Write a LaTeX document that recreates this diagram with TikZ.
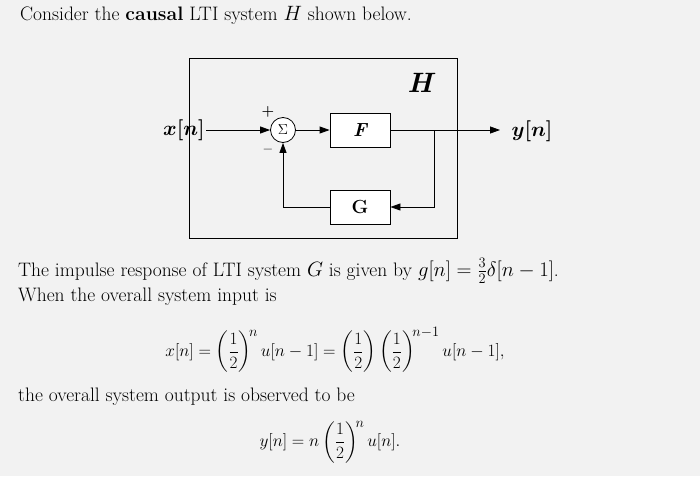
\documentclass[tikz,border=0pt]{standalone}
\usepackage{amsmath}
\usetikzlibrary{arrows.meta}
\begin{document}
\begin{tikzpicture}[x=1pt,y=-1pt,
  blk/.style={draw,thick,minimum width=60pt,minimum height=34pt,fill=white,font=\fontsize{19}{22}\selectfont\bfseries},
  arr/.style={thick,-{Triangle[length=10pt,width=7pt]}},
  txt/.style={anchor=west,font=\fontsize{19.5}{22}\selectfont,inner sep=0pt},
  eq/.style={font=\fontsize{19}{22}\selectfont,inner sep=0pt}]
\fill[gray!10] (0,0) rectangle (700,476);
\useasboundingbox (0,0) rectangle (700,476);
\node[txt] (t1) at (20,15) {Consider the \textbf{causal} LTI system $H$ shown below.};
\draw[thick] (189,58) rectangle (457,238);
\node (H) at (420,83) {\fontsize{28}{30}\selectfont\bfseries\itshape H};
\node[anchor=east,inner sep=1pt] (x) at (206,130) {\fontsize{21}{24}\selectfont\bfseries $\boldsymbol{x}$[$\boldsymbol{n}$]};
\node[draw,thick,circle,minimum size=25pt,inner sep=0pt,fill=white] (s) at (283,130) {\fontsize{15}{16}\selectfont$\Sigma$};
\node (plus) at (268,112) {\Large\bfseries +};
\node (minus) at (268,151) {\Large\bfseries --};
\node[blk] (F) at (360,130) {\itshape F};
\node[blk] (G) at (360,207) {G};
\coordinate (o) at (500,130);
\node[anchor=west] (y) at (508,131) {\fontsize{21}{24}\selectfont\bfseries $\boldsymbol{y}$[$\boldsymbol{n}$]};
\coordinate (b) at (434,130);
\draw[arr] (x) -- (s);
\draw[arr] (s) -- (F);
\draw[arr] (F) -- (o);
\draw[arr] (b) |- (G);
\draw[arr] (G.west) -| (s.south);
\node[txt] (t2) at (18,271) {The impulse response of LTI system $G$ is given by $g[n]=\tfrac{3}{2}\delta[n-1]$.};
\node[txt] (t3) at (18,297) {When the overall system input is};
\node[eq] (e1) at (335,350) {$x[n]=\left(\dfrac{1}{2}\right)^{\!n}u[n-1]=\left(\dfrac{1}{2}\right)\left(\dfrac{1}{2}\right)^{\!n-1}u[n-1],$};
\node[txt] (t4) at (18,397) {the overall system output is observed to be};
\node[eq] (e2) at (330,442) {$y[n]=n\left(\dfrac{1}{2}\right)^{\!n}u[n].$};
\end{tikzpicture}
\end{document}
